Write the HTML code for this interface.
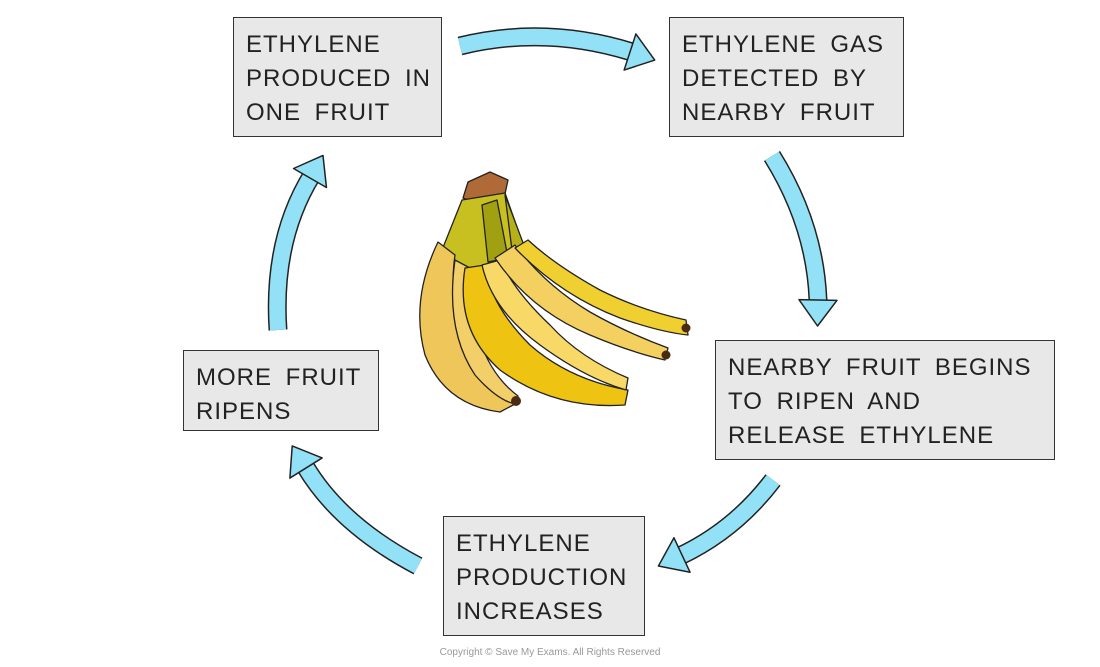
<!DOCTYPE html>
<html><head><meta charset="utf-8"><style>
html,body{margin:0;padding:0;background:#fff;}
.wrap{position:relative;width:1100px;height:667px;overflow:hidden;font-family:"Liberation Sans",sans-serif;}
.box{position:absolute;background:#e8e8e8;border:1.5px solid #333;box-sizing:border-box;color:#222;font-size:24px;line-height:34px;letter-spacing:1px;word-spacing:6px;padding:10px 0 0 12px;}
.copy{position:absolute;left:0;width:1100px;top:647px;text-align:center;font-size:10px;color:#999;}
</style></head><body><div class="wrap">
<svg width="1100" height="667" style="position:absolute;left:0;top:0">
<defs>
<g id="ah"><polygon points="0,-19 26,0 0,19" fill="#93e1f6" stroke="#222" stroke-width="1.5" stroke-linejoin="round"/></g>
</defs>
<g fill="none" stroke-linecap="butt">
<path d="M460,46 Q545,25 632,52" stroke="#222" stroke-width="19"/>
<path d="M460,46 Q545,25 632,52" stroke="#93e1f6" stroke-width="16"/>
<path d="M772,156 Q815,225 818,300" stroke="#222" stroke-width="19"/>
<path d="M772,156 Q815,225 818,300" stroke="#93e1f6" stroke-width="16"/>
<path d="M773,480 Q735,530 680,556" stroke="#222" stroke-width="19"/>
<path d="M773,480 Q735,530 680,556" stroke="#93e1f6" stroke-width="16"/>
<path d="M418,566 Q340,525 305,466" stroke="#222" stroke-width="19"/>
<path d="M418,566 Q340,525 305,466" stroke="#93e1f6" stroke-width="16"/>
<path d="M278,330 Q272,240 312,175" stroke="#222" stroke-width="19"/>
<path d="M278,330 Q272,240 312,175" stroke="#93e1f6" stroke-width="16"/>
</g>
<use href="#ah" transform="translate(630,52) rotate(18)"/>
<use href="#ah" transform="translate(818,300) rotate(91)"/>
<use href="#ah" transform="translate(682,555) rotate(155)"/>
<use href="#ah" transform="translate(306,468) rotate(238)"/>
<use href="#ah" transform="translate(310,178) rotate(-60)"/>
<!-- banana -->
<g stroke="#222" stroke-width="1.3" stroke-linejoin="round">
<path d="M463,198 L468,182 L490,172 L508,180 L505,194 L480,205 Z" fill="#b06a38"/>
<path d="M440,255 L462,200 L505,193 L525,250 L500,268 L455,270 Z" fill="#c8c020"/>
<path d="M482,205 L497,200 L508,258 L488,262 Z" fill="#a0a010"/>
<path d="M505,195 L512,250 L525,248 Z" fill="#b8b018"/>
<path d="M438,242 Q410,300 425,355 Q445,405 500,412 L515,404 Q470,385 458,330 Q450,290 455,255 Z" fill="#efc65a"/>
<path d="M455,260 Q445,330 475,375 Q497,400 515,404 L518,396 Q490,375 478,335 Q468,300 470,268 Z" fill="#f3cf6a"/>
<path d="M465,268 Q455,330 500,370 Q555,410 625,405 L628,390 Q570,380 530,345 Q490,305 485,265 Z" fill="#eec312"/>
<path d="M482,265 Q492,310 540,345 Q585,378 626,390 L628,378 Q580,358 550,325 Q515,292 500,260 Z" fill="#f8d867"/>
<path d="M495,258 Q530,310 590,335 Q630,352 665,360 L668,348 Q625,332 590,312 Q545,285 515,245 Z" fill="#f4d060"/>
<path d="M515,248 Q560,295 620,318 Q660,332 688,335 L686,320 Q640,310 600,290 Q555,265 528,240 Z" fill="#f0d030"/>
</g>
<circle cx="516" cy="401" r="5" fill="#4a2a10"/>
<circle cx="666" cy="355" r="4.5" fill="#4a2a10"/>
<circle cx="686" cy="328" r="4.5" fill="#4a2a10"/>
</svg>
<div class="box" style="left:233px;top:17px;width:209px;height:120px;">ETHYLENE<br>PRODUCED IN<br>ONE FRUIT</div>
<div class="box" style="left:669px;top:17px;width:235px;height:120px;">ETHYLENE GAS<br>DETECTED BY<br>NEARBY FRUIT</div>
<div class="box" style="left:715px;top:340px;width:340px;height:120px;">NEARBY FRUIT BEGINS<br>TO RIPEN AND<br>RELEASE ETHYLENE</div>
<div class="box" style="left:443px;top:516px;width:202px;height:120px;">ETHYLENE<br>PRODUCTION<br>INCREASES</div>
<div class="box" style="left:183px;top:350px;width:196px;height:81px;">MORE FRUIT<br>RIPENS</div>
<div class="copy">Copyright © Save My Exams. All Rights Reserved</div>
</div></body></html>
